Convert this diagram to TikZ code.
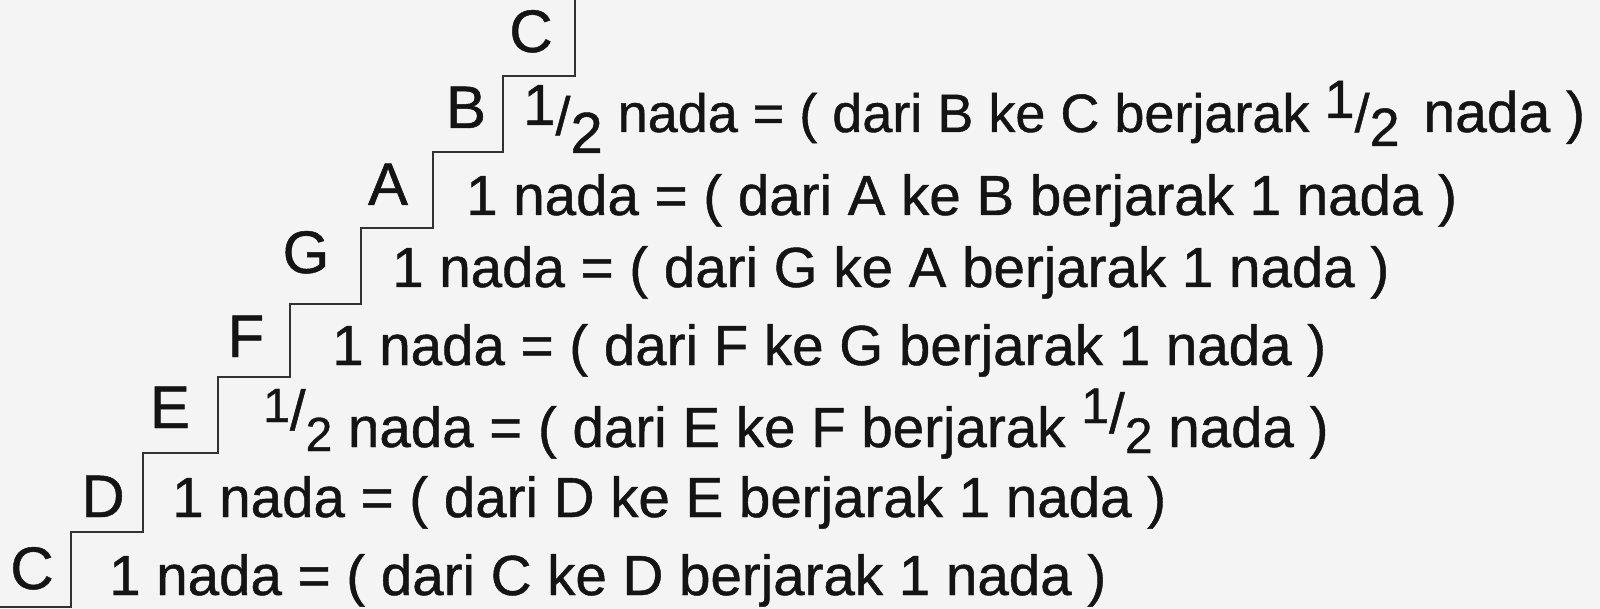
\documentclass[tikz,border=0pt]{standalone}
\usepackage{fontspec}
\setmainfont{Liberation Sans}[FakeBold=0.8]
\newcommand\myfr[5]{\raisebox{#2pt}{\fontsize{#1pt}{#1pt}\selectfont 1}\raisebox{#3pt}{/}\raisebox{#5pt}{\fontsize{#4pt}{#4pt}\selectfont 2}}
\definecolor{bgc}{RGB}{244,244,244}
\definecolor{inkc}{RGB}{20,20,20}
\definecolor{linec}{RGB}{50,50,50}
\tikzset{
  rowtext/.style={anchor=base west, inner sep=0pt, text=inkc, font=\fontsize{56.5pt}{60pt}\selectfont},
  toprow/.style={rowtext, font=\fontsize{54pt}{58pt}\selectfont},
  notelbl/.style={anchor=base, inner sep=0pt, text=inkc, font=\fontsize{60pt}{64pt}\selectfont},
  stair/.style={draw=linec, line width=1.5pt, line join=miter}
}
\begin{document}
\begin{tikzpicture}[x=1pt,y=-1pt]
\fill[bgc] (0,0) rectangle (1600,609);
\useasboundingbox (0,0) rectangle (1600,609);
% staircase
\draw[stair] (0,607) -- (71,607) -- (71,532) -- (143,532) -- (143,453)
  -- (218,453) -- (218,377) -- (290,377) -- (290,304) -- (361,304)
  -- (361,228) -- (433,228) -- (433,152) -- (503,152) -- (503,76)
  -- (575,76) -- (575,0);
% note letters
\node[notelbl] (nC1) at (32,589) {C};
\node[notelbl] (nD) at (103,517) {D};
\node[notelbl] (nE) at (170,428) {E};
\node[notelbl] (nF) at (246,357) {F};
\node[notelbl] (nG) at (306,273) {G};
\node[notelbl] (nA) at (388,205) {A};
\node[notelbl] (nB) at (466,128) {B};
\node[notelbl] (nC2) at (531,52) {C};
% interval texts
\node[rowtext] (r0) at (109,595) {1 nada = ( dari C ke D berjarak 1 nada )};
\node[rowtext] (r1) at (172,517) {1 nada = ( dari D ke E berjarak 1 nada )};
\node[rowtext] (r2) at (263,447) {\myfr{48}{25}{17}{48}{-4} nada = ( dari E ke F berjarak \myfr{50}{24}{14}{50}{-6} nada )};
\node[rowtext] (r3) at (332,365) {1 nada = ( dari F ke G berjarak 1 nada )};
\node[rowtext] (r4) at (392,287) {1 nada = ( dari G ke A berjarak 1 nada )};
\node[rowtext] (r5) at (466,215) {1 nada = ( dari A ke B berjarak 1 nada )};
\node[toprow] (r6) at (523,132) {\myfr{58}{7}{-3}{58}{-21} nada = ( dari B ke C berjarak \myfr{54}{14}{0}{54}{-14}\kern8pt{\fontsize{57pt}{60pt}\selectfont\ nada )}};
\end{tikzpicture}
\end{document}
